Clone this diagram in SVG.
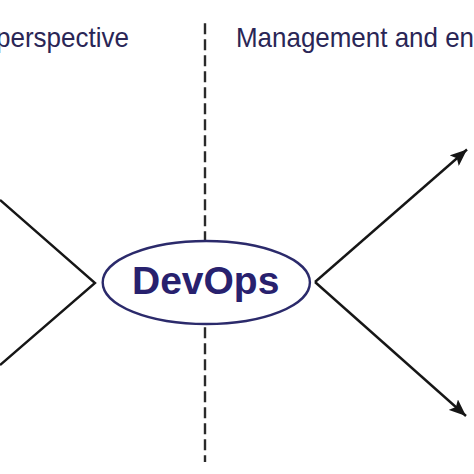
<svg xmlns="http://www.w3.org/2000/svg" width="474" height="474" viewBox="0 0 474 474">
  <style>
    .lbl { font-family: "Liberation Sans", Arial, sans-serif; font-size: 28px; fill: #2a2656; }
    .conn { stroke: #161616; stroke-width: 2.4; fill: none; }
    .dash { stroke: #2a2a2a; stroke-width: 2.4; stroke-dasharray: 11 5; fill: none; }
  </style>
  <defs>
    <marker id="arrow" markerUnits="userSpaceOnUse" markerWidth="18" markerHeight="14" refX="17" refY="7" orient="auto">
      <path d="M0,0 L17,7 L0,14 L3.5,7 z" fill="#161616"/>
    </marker>
  </defs>
  <rect width="474" height="474" fill="#ffffff"/>
  <g id="divider">
    <line class="dash" x1="205" y1="23.3" x2="205" y2="241"/>
    <line class="dash" x1="205" y1="327.3" x2="205" y2="462"/>
  </g>
  <g id="label-left">
    <text class="lbl" x="-4" y="46.5" textLength="133" lengthAdjust="spacingAndGlyphs">perspective</text>
  </g>
  <g id="label-right">
    <text class="lbl" x="236" y="46.5" textLength="238" lengthAdjust="spacingAndGlyphs">Management and en</text>
  </g>
  <g id="connectors">
    <polyline class="conn" points="0,200 95,283 0,365"/>
    <line class="conn" x1="315" y1="282" x2="467" y2="149.5" marker-end="url(#arrow)"/>
    <line class="conn" x1="315" y1="282" x2="466" y2="416" marker-end="url(#arrow)"/>
  </g>
  <g id="devops">
    <ellipse cx="206.3" cy="282.5" rx="103.6" ry="41.5" fill="#ffffff" stroke="#2b2a6b" stroke-width="2.4"/>
    <text x="205.7" y="293.5" text-anchor="middle" font-family="Liberation Sans, Arial, sans-serif" font-size="39" font-weight="bold" fill="#28216e">DevOps</text>
  </g>
</svg>
